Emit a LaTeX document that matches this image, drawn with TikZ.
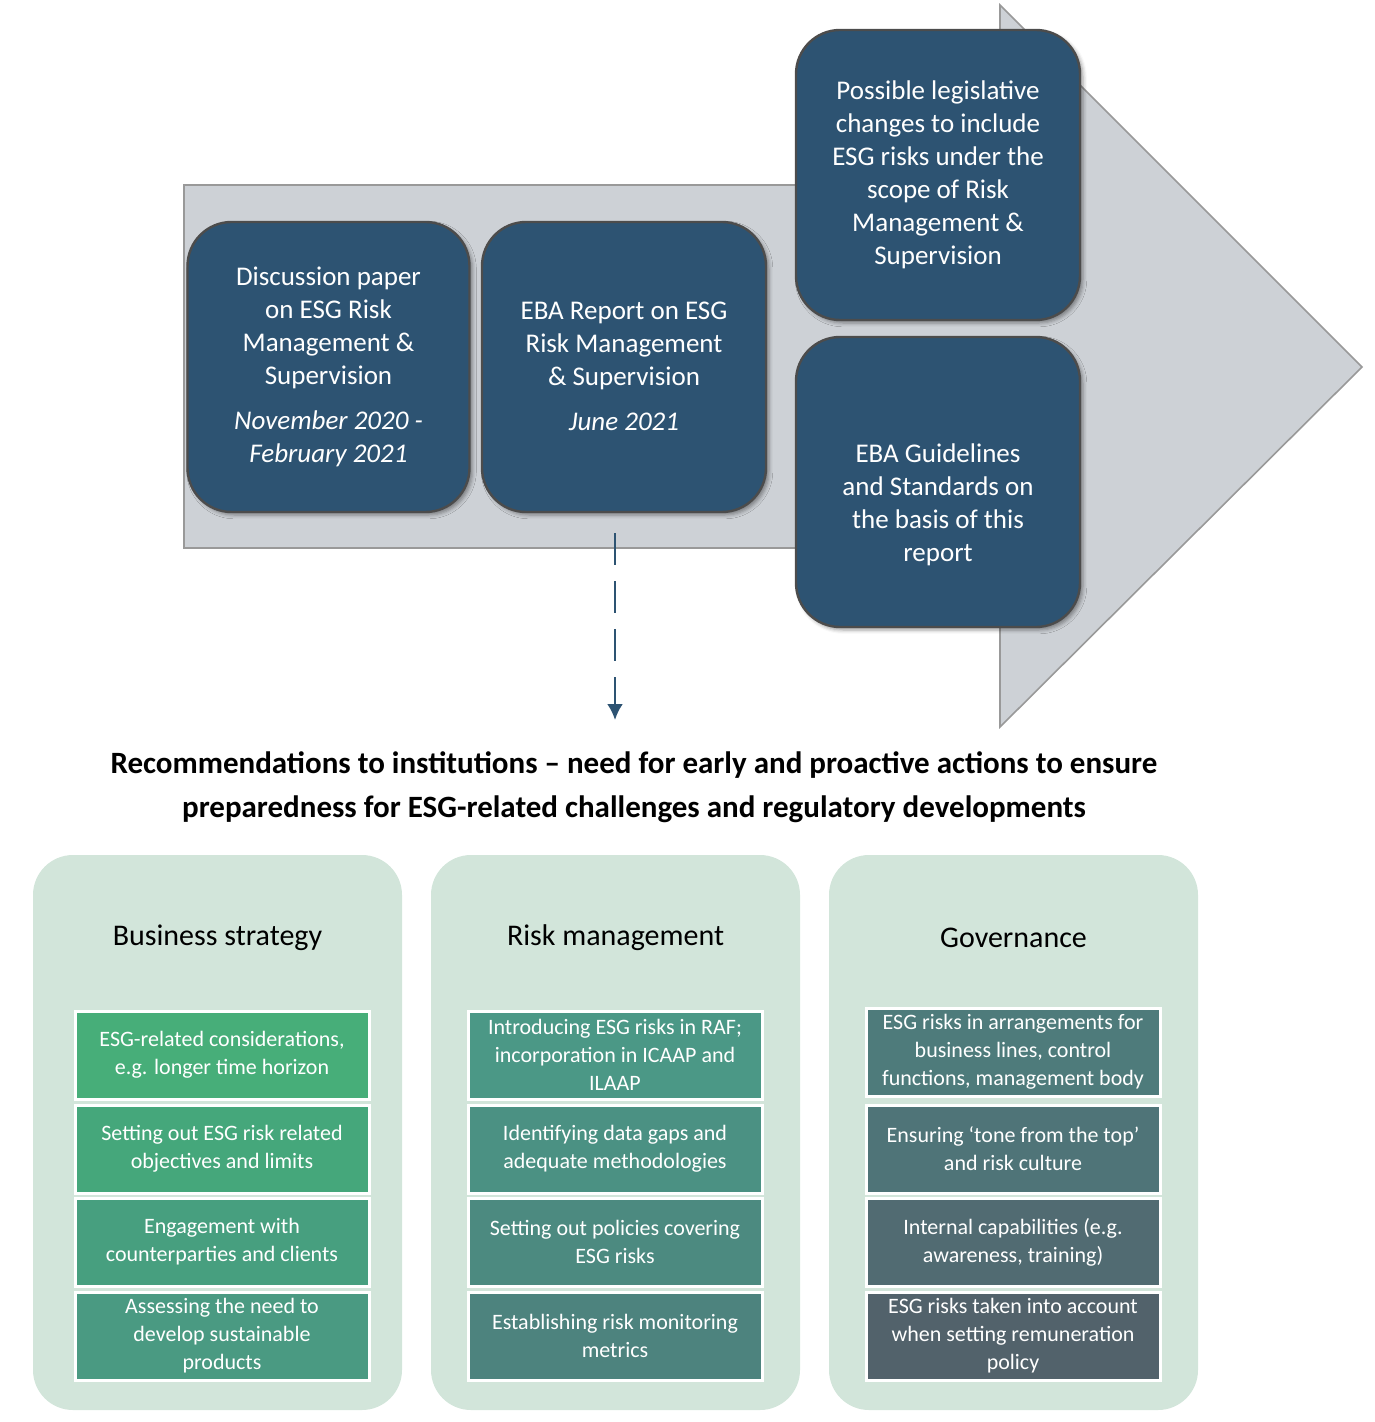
\documentclass[tikz,border=0pt]{standalone}
\usepackage{fontspec}
\setmainfont{Carlito}
\usetikzlibrary{arrows.meta,shadows.blur}
\begin{document}
\begin{tikzpicture}[x=0.5pt,y=-0.5pt,
  dark/.style={draw=black!70,line width=1.2pt,fill=blue1,rounded corners=22pt,blur shadow={shadow xshift=1.5pt,shadow yshift=-1.5pt}},
  dtext/.style={text=white,align=center,font=\fontsize{13.5}{16.5}\selectfont},
  item/.style={draw=white,line width=1.5pt,text=white,align=center,font=\fontsize{11}{14}\selectfont,inner sep=2pt}]
\definecolor{blue1}{HTML}{2D5372}
\definecolor{arrowg}{HTML}{CDD1D6}
\definecolor{panelg}{HTML}{D2E5DA}
\useasboundingbox (0,0) rectangle (1374,1422);
% big arrow
\draw[draw=gray!80,fill=arrowg,line width=0.8pt] (184,185) -- (1000,185) -- (1000,5) -- (1362,367) -- (1000,727) -- (1000,548) -- (184,548) -- cycle;
% dark boxes
\node[dark,minimum width=141pt,minimum height=145pt] (b1) at (328.5,367) {};
\node[dtext] at (328.5,367) {Discussion paper\\on ESG Risk\\Management \&\\Supervision\\[6pt]\itshape November 2020 -\\\itshape February 2021};
\node[dark,minimum width=142pt,minimum height=145pt] (b2) at (624,367) {};
\node[dtext,anchor=north] at (624,295) {EBA Report on ESG\\Risk Management\\\& Supervision\\[6pt]\itshape June 2021};
\node[dark,minimum width=142pt,minimum height=145pt] (b3) at (938,175) {};
\node[dtext] at (938,175) {Possible legislative\\changes to include\\ESG risks under the\\scope of Risk\\Management \&\\Supervision};
\node[dark,minimum width=142pt,minimum height=145pt] (b4) at (938,482) {};
\node[dtext] at (938,505) {EBA Guidelines\\and Standards on\\the basis of this\\report};
% dashed arrow
\coordinate (ds) at (615,533);
\coordinate (de) at (615,720);
\draw[blue1,line width=1.3pt,dash pattern=on 16pt off 8pt,-{Latex[length=8pt,width=8pt]}] (ds) -- (de);
% title
\node[font=\bfseries\fontsize{15.5}{22}\selectfont,align=center] (title) at (634,787) {Recommendations to institutions -- need for early and proactive actions to ensure\\preparedness for ESG-related challenges and regulatory developments};
% panels
\foreach \x/\h in {33/Business strategy,431/Risk management,829/Governance}{
  \fill[panelg,rounded corners=20pt] (\x,855) rectangle ++(369,555);
  \node[font=\fontsize{15}{18}\selectfont] at (\x+184.5,938) {\h};
}
% items
\foreach \x/\y/\c/\t in {
 222/1055/47AE79/{ESG-related considerations,\\e.g. longer time horizon},
 222/1149/45A77B/{Setting out ESG risk related\\objectives and limits},
 222/1242/479F7F/{Engagement with\\counterparties and clients},
 222/1336/4A9A82/{Assessing the need to\\develop sustainable\\products},
 615/1055/4B9886/{Introducing ESG risks in RAF;\\incorporation in ICAAP and\\ILAAP},
 615/1149/4B9183/{Identifying data gaps and\\adequate methodologies},
 615/1242/4C8A80/{Setting out policies covering\\ESG risks},
 615/1336/4D837E/{Establishing risk monitoring\\metrics},
 1013/1052/4E7B7B/{ESG risks in arrangements for\\business lines, control\\functions, management body},
 1013/1149/4F7478/{Ensuring ‘tone from the top’\\and risk culture},
 1013/1242/516B72/{Internal capabilities (e.g.\\awareness, training)},
 1013/1336/52626B/{ESG risks taken into account\\when setting remuneration\\policy}}{
  \definecolor{tmp}{HTML}{\c}
  \node[item,fill=tmp,minimum width=147pt,minimum height=44pt] at (\x,\y) {\t};
}
\end{tikzpicture}
\end{document}
